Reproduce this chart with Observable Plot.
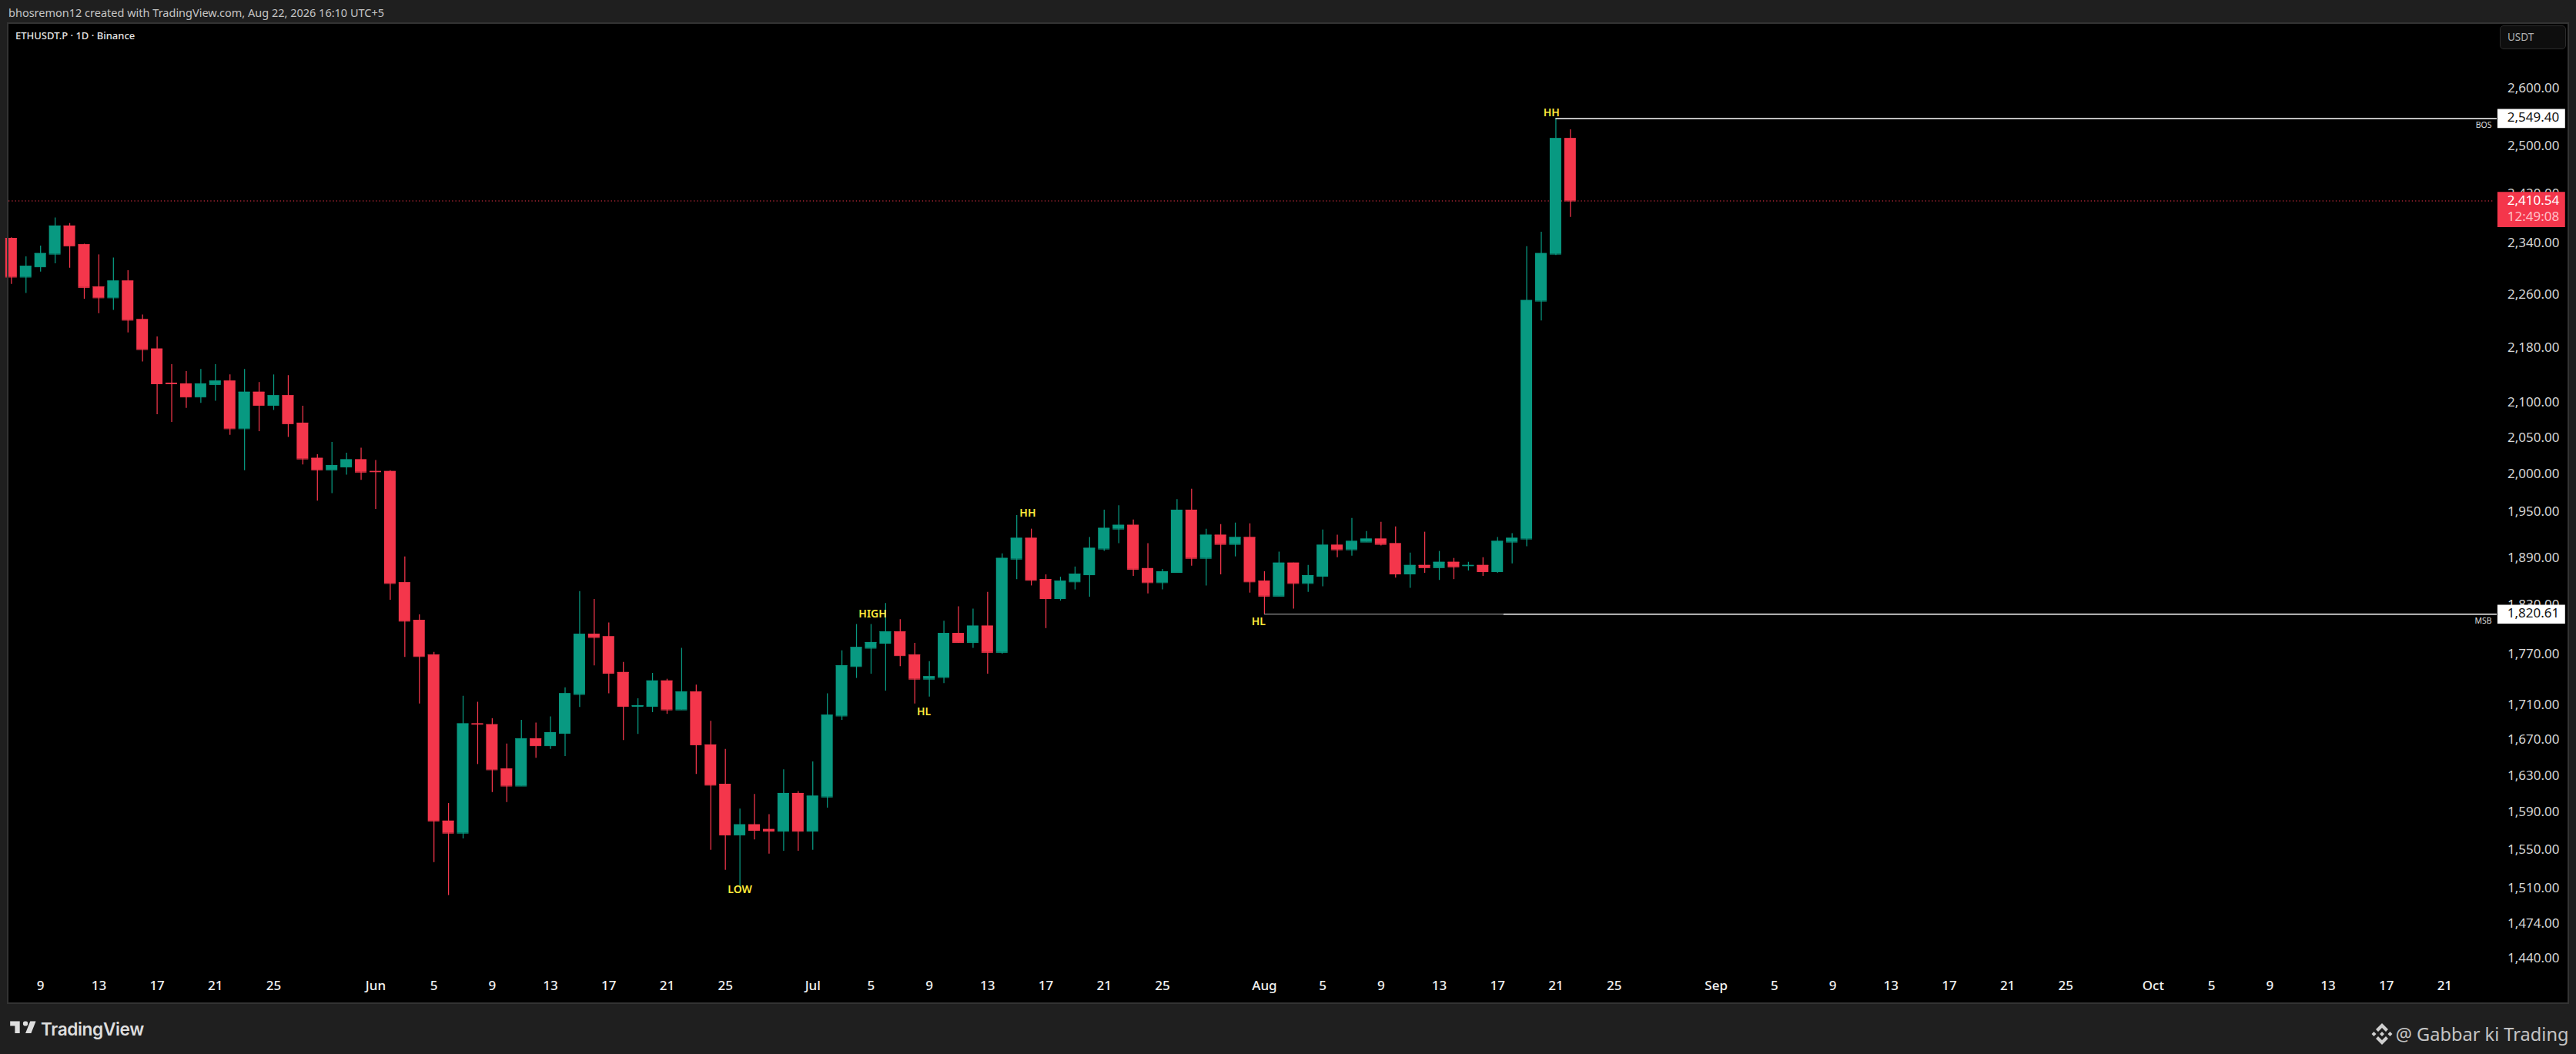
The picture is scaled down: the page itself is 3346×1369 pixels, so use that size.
<!DOCTYPE html>
<html><head><meta charset="utf-8">
<script src="https://cdn.jsdelivr.net/npm/d3@7"></script>
<script src="https://cdn.jsdelivr.net/npm/@observablehq/plot@0.6"></script>
<style>
html,body{margin:0;padding:0;background:#1f1f1f;width:3346px;height:1369px;overflow:hidden;font-family:"Noto Sans",sans-serif}
.abs{position:absolute;white-space:nowrap}
#chart{position:absolute;left:11px;top:31px;width:3324px;height:1271px;outline:2px solid #333}
#chart svg{display:block}
#logo{position:absolute;left:11px;top:1320px;width:36px;height:28px;background:#dedede;clip-path:path("M14 6H2v6h6v9h6V6zm14 15h-7l6-15h7l-6 15zm-7-9a3 3 0 1 0 0-6 3 3 0 0 0 0 6z");transform:scale(1.05);transform-origin:0 0}
#bnb{position:absolute;left:3080px;top:1329px;width:28px;height:28px;background:#cfcfcf;clip-path:path("M14 0L22 8L19 11L14 6L9 11L6 8ZM14 28L22 20L19 17L14 22L9 17L6 20ZM14 11L17 14L14 17L11 14ZM3.5 11L6.5 14L3.5 17L.5 14ZM24.5 11L27.5 14L24.5 17L21.5 14Z")}
</style></head><body>
<div class="abs" style="left:11px;top:6px;font-size:14.5px;line-height:20px;color:#c4c4c4" id="hdr">bhosremon12 created with TradingView.com, Aug 22, 2026 16:10 UTC+5</div>
<div id="chart"></div>
<div class="abs" style="left:20px;top:36px;font-size:13px;line-height:20px;color:#e4e4e4;font-weight:500">ETHUSDT.P · 1D · Binance</div>
<div class="abs" style="left:3247px;top:33px;width:84px;height:29px;border:1px solid #2b2b2b;border-radius:5px;background:#0e0e0e;box-sizing:content-box"></div>
<div class="abs" style="left:3257px;top:38px;font-size:13.5px;line-height:20px;color:#b0b0b0">USDT</div>
<div id="logo"></div>
<div class="abs" style="left:53px;top:1321px;font-family:Inter,sans-serif;font-size:22.7px;line-height:32px;font-weight:600;color:#dedede;letter-spacing:-.4px">TradingView</div>
<div id="bnb"></div>
<div class="abs" style="right:9.5px;top:1326px;font-size:23.6px;line-height:34px;color:#c4c4c4">@ Gabbar ki Trading</div>
<script>
const firstDay = "2026-05-07";
const high = [2351,2321,2338,2383,2374,2341,2324,2319,2299,2231,2198,2157,2147,2150,2157,2142,2150,2131,2142,2141,2097,2029,2046,2031,2038,
 2021,2007,1893,1820,1774,1601,1722,1715,1696,1667,1694,1691,1698,1732,1849,1839,1810,1762,1719,1749,1742,1779,1735,1693,1661,1595,1611,1589,1638,1614,
 1647,1725,1776,1808,1808,1834,1814,1785,1763,1812,1830,1827,1848,1897,1947,1929,1870,1867,1880,1918,1954,1960,1941,1910,1877,1968,1982,1929,1935,1937,1936,
 1874,1899,1885,1882,1928,1921,1943,1926,1938,1932,1898,1925,1900,1891,1886,1892,1918,1923,2337,2360,2549.4,2530];
const open = [2350,2289,2305,2325,2370,2340,2274,2257,2283,2224,2180,2130,2129,2110,2128,2133,2065,2117,2098,2112,2073,2024,2008,2012,2022,
 2006,2006,1860,1813,1771,1582,1569,1690,1689,1639,1620,1673,1665,1679,1724,1796,1793,1750,1710,1710,1740,1706,1727,1666,1622,1567,1578,1573,1571,1612,
 1571,1608,1699,1757,1779,1785,1799,1771,1742,1744,1797,1786,1806,1774,1890,1917,1864,1840,1861,1870,1903,1929,1934,1878,1860,1873,1954,1891,1921,1909,1918,
 1862,1843,1885,1859,1868,1908,1902,1912,1916,1910,1871,1882,1879,1886,1881.5,1882,1874,1912,1916,2252,2325,2515];
const close = [2289,2306,2326,2370,2338,2273,2257,2283,2223,2179,2129,2129,2110,2129,2133,2065,2117,2098,2112,2072,2023,2008,2014,2022,2005,
 2005.5,1859,1812,1769,1582,1569,1690,1689.5,1638,1620,1673,1665,1680,1725,1796,1792,1749,1710,1711,1740,1706,1727,1666,1621,1567,1578,1572,1571,1612,1571,
 1609,1700,1758,1780,1786,1799,1770,1742,1745,1797,1786,1806,1774,1891,1917,1863,1840,1862,1871,1904,1930,1934,1877,1860,1874,1954,1891,1921,1909,1918,1861,
 1843,1885,1859,1869,1908,1902,1913,1916,1909,1871,1882,1879,1886,1880,1882,1874,1913,1917,2253,2326,2515,2410.54];
const low = [2278,2264,2297,2310,2303,2255,2233,2238,2204,2161,2085,2074,2094,2101,2104,2056,2007,2061,2091,2053,2015,1966,1976,2001,1994,
 1955,1838,1768,1713,1538,1504,1563,1644,1613,1602,1620,1651,1661,1653,1709,1758,1725,1671,1678,1703,1701,1706,1633,1551,1530,1511,1562,1547,1550,1550,
 1551,1596,1694,1743,1748,1728,1757,1713,1721,1737,1785,1779,1748,1772,1864,1856,1803,1837,1851,1842,1900,1910,1868,1846,1851,1873,1881,1856,1870,1893,1847,
 1820.61,1843,1827,1848,1855,1892,1894,1912,1907,1866,1853,1872,1863,1864,1875,1868,1872,1884,1906,2222,2323,2384];

const priceTicks = [2600,2500,2420,2340,2260,2180,2100,2050,2000,1950,1890,1830,1770,1710,1670,1630,1590,1550,1510,1474,1440];
const timeTicks = ["05-09","05-13","05-17","05-21","05-25","06-01","06-05","06-09","06-13","06-17","06-21","06-25",
 "07-01","07-05","07-09","07-13","07-17","07-21","07-25","08-01","08-05","08-09","08-13","08-17","08-21","08-25",
 "09-01","09-05","09-09","09-13","09-17","09-21","09-25","10-01","10-05","10-09","10-13","10-17","10-21"].map(s=>new Date("2026-"+s+"T00:00Z"));
const annotations = [
 {label:"HH",  time:"2026-07-15T18:00Z", price:1950.2},
 {label:"HIGH",time:"2026-07-05T02:40Z", price:1820.6},
 {label:"HL",  time:"2026-07-08T15:00Z", price:1704},
 {label:"LOW", time:"2026-06-26T00:00Z", price:1509.8},
 {label:"HL",  time:"2026-07-31T14:24Z", price:1811.7},
 {label:"HH",  time:"2026-08-20T16:48Z", price:2559.1}
];
const levels = [
 {from:"2026-08-21T00:00Z", to:null, price:2549.40, name:"BOS", color:"#fff", w:1.5},
 {from:"2026-08-17T10:00Z", to:null, price:1820.61, name:"MSB", color:"#fff", w:1.3},
 {from:"2026-08-01T00:00Z", to:"2026-08-17T10:00Z", price:1820.61, name:"", color:"#b5b5b5", w:1}
];
const lastPrice = 2410.54, countdown = "12:49:08";
const UP="#089981", DOWN="#F4364B";

const domainStart=new Date("2026-05-06T19:45Z"), domainEnd=new Date("2026-10-24T14:24Z"), tagEnd=new Date("2026-10-29T07:00Z");
const DAY=864e5;
const days=d3.utcDay.range(new Date(firstDay+"T00:00Z"), new Date("2026-08-23T00:00Z"));
const rows=days.map((date,i)=>({date,open:open[i],high:high[i],low:low[i],close:close[i]}));
const left=d=>new Date(+d.date-.396*DAY), right=d=>new Date(+d.date+.396*DAY);
const candle=(data,color)=>[
 Plot.ruleX(data,{x:"date",y1:"low",y2:"high",stroke:color,strokeWidth:1.25}),
 Plot.rect(data,{x1:left,x2:right,y1:"open",y2:"close",fill:color}),
 Plot.ruleY(data,{y:"open",x1:left,x2:right,stroke:color,strokeWidth:1}),
 Plot.ruleY(data,{y:"close",x1:left,x2:right,stroke:color,strokeWidth:1})
];
const lv=levels.map(d=>({...d,from:new Date(d.from),to:d.to?new Date(d.to):domainEnd}));
const tags=levels.filter(d=>d.name);
const chart=Plot.plot({
 width:3324,height:1271,marginLeft:0,marginRight:92,marginTop:0,marginBottom:40,
 style:{background:"#000",fontFamily:"Noto Sans",overflow:"visible"},
 x:{type:"utc",domain:[domainStart,domainEnd]},
 y:{type:"log",domain:[1427.8,2717.9]},
 marks:[
  Plot.axisY(priceTicks,{anchor:"right",tickSize:0,tickPadding:81,textAnchor:"end",tickFormat:d3.format(",.2f"),label:null,fontSize:17,fill:"#d6d6d6",dy:-2}),
  Plot.axisX(timeTicks,{anchor:"bottom",tickSize:0,tickPadding:11,tickFormat:d=>d.getUTCDate()===1?d3.utcFormat("%b")(d):String(d.getUTCDate()),label:null,fontSize:17,fontWeight:500,fill:"#f2f2f2"}),
  Plot.ruleY([lastPrice],{y:d=>d,x1:domainStart,x2:new Date(+domainEnd-.16*DAY),stroke:DOWN,strokeWidth:1,strokeDasharray:"1.3 3"}),
  ...candle(rows.filter(d=>d.close>=d.open),UP),
  ...candle(rows.filter(d=>d.close<d.open),DOWN),
  Plot.ruleY(lv,{y:"price",x1:"from",x2:"to",stroke:"color",strokeWidth:"w"}),
  Plot.text(tags,{x:()=>domainEnd,y:"price",text:"name",textAnchor:"end",dx:-7,dy:9,fontSize:10.5,fill:"#dedede"}),
  Plot.ruleY(tags,{y:"price",x1:()=>new Date(+domainEnd+.05*DAY),x2:()=>tagEnd,stroke:"#fff",strokeWidth:24.7}),
  Plot.text(tags,{x:()=>tagEnd,y:"price",text:d=>d3.format(",.2f")(d.price),textAnchor:"end",dx:-8,dy:-1.5,fontSize:17,fill:"#131313"}),
  Plot.ruleY([lastPrice],{y:d=>d,x1:()=>new Date(+domainEnd+.05*DAY),x2:()=>tagEnd,stroke:DOWN,strokeWidth:45.7,dy:11.2}),
  Plot.text([lastPrice],{x:()=>tagEnd,y:d=>d,text:d=>d3.format(",.2f")(d),textAnchor:"end",dx:-8,dy:-0.5,fontSize:17,fill:"#fff"}),
  Plot.text([countdown],{x:()=>tagEnd,y:()=>lastPrice,text:d=>d,textAnchor:"end",dx:-8,dy:21,fontSize:17,fill:"#ffc2c9"}),
  Plot.text(annotations,{x:d=>new Date(d.time),y:"price",text:"label",fontSize:14,fontWeight:600,fill:"#FFEB3B"})
 ]
});
document.getElementById("chart").appendChild(chart);
</script>
</body></html>
